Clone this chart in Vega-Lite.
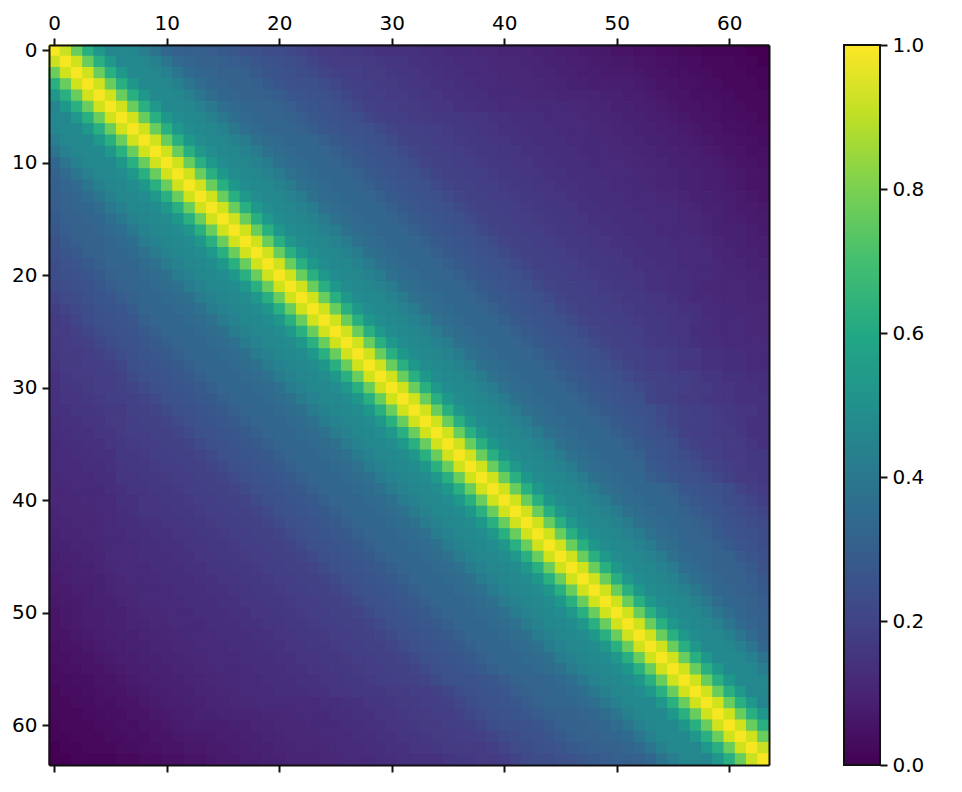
{"$schema":"https://vega.github.io/schema/vega-lite/v6.json","padding":{"left":11,"top":13,"right":10,"bottom":5},"background":"white","spacing":73,"config":{"view":{"stroke":null},"axis":{"grid":false,"title":null,"labelFont":"DejaVu Sans","labelFontSize":20,"labelColor":"#000","labelAngle":0,"tickColor":"#111","tickWidth":2,"tickSize":7,"labelPadding":5,"domainColor":"#111","domainWidth":2}},"hconcat":[{"width":720,"height":720,"data":{"values":[
{"y":0,"v":[99,92,77,63,53,45,46,46,42,38,33,31,30,30,29,28,27,25,24,23,23,22,20,18,17,17,16,16,15,14,14,14,14,13,13,12,12,12,11,11,10,10,10,9,9,8,8,7,7,6,5,5,4,4,3,3,2,2,1,1,1,1,0,0]},
{"y":1,"v":[92,99,93,77,63,53,46,47,46,43,39,34,32,31,31,30,29,28,26,25,24,23,22,20,18,17,17,17,17,16,15,15,14,14,13,13,12,12,12,11,11,11,10,10,9,9,8,8,7,7,6,6,5,5,4,4,3,3,2,2,2,1,1,0]},
{"y":2,"v":[77,93,99,93,77,63,53,47,47,46,43,39,34,33,32,31,31,30,28,26,25,24,23,22,20,19,18,18,17,17,16,15,15,14,14,13,13,12,12,12,11,11,11,10,10,9,9,8,8,7,7,7,6,5,5,4,4,3,3,2,2,2,1,1]},
{"y":3,"v":[63,77,93,99,93,77,63,53,47,47,46,43,39,35,33,32,31,31,30,28,26,25,24,24,23,21,19,18,18,17,17,16,15,15,14,14,13,13,12,12,12,11,11,11,10,10,9,9,8,8,8,8,7,6,5,5,4,4,3,3,2,2,2,1]},
{"y":4,"v":[53,63,77,93,99,93,77,63,53,47,47,46,43,39,35,33,32,31,31,30,29,27,26,25,24,23,21,19,18,18,17,17,16,15,15,14,14,13,13,12,12,12,11,11,11,10,10,10,10,9,9,8,8,7,6,5,5,4,4,3,3,2,2,2]},
{"y":5,"v":[45,53,63,77,93,99,93,77,63,53,47,47,46,43,40,36,34,33,32,32,31,29,27,26,25,24,23,21,19,18,18,17,17,16,15,15,14,14,13,13,12,12,12,12,12,12,11,11,10,10,9,9,8,8,7,6,5,5,4,4,3,3,2,2]},
{"y":6,"v":[46,46,53,63,77,93,99,93,77,63,53,48,47,46,43,40,36,34,33,32,32,31,29,27,26,25,24,23,21,19,18,18,17,17,16,16,16,15,15,14,14,13,13,13,12,12,12,11,11,10,10,9,9,8,8,7,6,5,5,4,4,3,3,2]},
{"y":7,"v":[46,47,47,53,63,77,93,99,93,77,63,53,48,47,46,44,40,36,34,33,32,32,31,29,27,26,25,25,24,22,20,19,19,18,18,17,16,16,15,15,14,14,13,13,13,12,12,12,11,11,10,10,9,9,8,8,7,6,5,5,4,4,3,3]},
{"y":8,"v":[42,46,47,47,53,63,77,93,99,93,77,63,53,48,47,46,44,41,37,35,34,33,33,32,30,28,27,26,25,24,22,20,19,19,18,18,17,16,16,15,15,14,14,13,13,13,12,12,12,11,11,10,10,9,9,8,8,7,6,5,5,4,4,3]},
{"y":9,"v":[38,43,46,47,47,53,63,77,93,99,93,77,63,53,48,47,46,44,41,37,35,34,33,33,32,30,28,27,26,25,24,22,20,19,19,18,18,17,16,16,15,15,14,14,13,13,13,12,12,12,11,11,10,10,9,9,8,8,7,6,5,5,4,4]},
{"y":10,"v":[33,39,43,46,47,47,53,63,77,93,99,93,77,63,53,48,47,46,44,41,37,35,34,33,33,32,30,28,27,26,25,24,22,20,19,19,18,18,17,16,16,15,15,14,14,13,13,13,12,12,12,11,11,10,10,9,9,8,8,7,6,5,5,4]},
{"y":11,"v":[31,34,39,43,46,47,48,53,63,77,93,99,93,77,63,53,48,47,46,44,41,37,35,34,33,33,32,30,28,27,26,25,24,22,20,19,19,18,18,17,16,16,15,15,14,14,13,13,13,12,12,12,11,11,10,10,9,9,8,8,7,6,5,5]},
{"y":12,"v":[30,32,34,39,43,46,47,48,53,63,77,93,99,93,77,63,53,48,47,46,44,41,37,35,34,33,33,32,30,28,27,26,25,24,22,20,19,19,18,18,17,16,16,15,15,14,14,13,13,13,12,12,12,11,10,10,9,9,8,8,7,6,5,5]},
{"y":13,"v":[30,31,33,35,39,43,46,47,48,53,63,77,93,99,93,77,63,53,48,47,46,44,41,37,35,34,33,33,32,30,28,27,26,25,24,22,20,19,19,18,18,17,16,16,15,15,14,14,13,13,13,12,12,12,11,11,10,9,9,8,8,7,6,5]},
{"y":14,"v":[29,31,32,33,35,40,43,46,47,48,53,63,77,93,99,93,77,63,53,48,47,46,44,41,37,35,34,33,33,32,30,28,27,26,25,24,22,20,19,19,18,18,17,16,16,15,15,14,14,13,13,13,12,12,12,12,11,10,9,9,8,7,7,6]},
{"y":15,"v":[28,30,31,32,33,36,40,44,46,47,48,53,63,77,93,99,93,77,63,53,48,47,46,44,41,37,35,34,33,33,32,30,28,27,26,25,24,22,20,19,19,18,18,17,16,16,15,15,14,14,13,13,13,12,12,12,11,11,10,9,8,8,7,7]},
{"y":16,"v":[27,29,31,31,32,34,36,40,44,46,47,48,53,63,77,93,99,93,77,63,53,48,47,46,44,41,37,35,34,33,33,32,30,28,27,26,25,24,22,20,19,19,18,18,17,16,16,15,15,14,14,13,13,13,12,12,12,11,10,9,9,9,8,7]},
{"y":17,"v":[25,28,30,31,31,33,34,36,41,44,46,47,48,53,63,77,93,99,93,77,63,53,48,47,46,44,41,37,35,34,33,33,32,30,28,27,26,25,24,22,20,19,19,18,18,17,16,16,15,15,14,14,13,13,13,12,12,12,11,10,9,9,8,8]},
{"y":18,"v":[24,26,28,31,31,32,33,34,37,41,44,46,47,48,53,63,77,93,99,93,77,63,53,48,47,46,44,41,37,35,34,33,33,32,30,28,27,26,25,24,22,20,19,19,18,18,17,16,16,15,15,14,14,13,13,13,12,12,12,10,10,9,9,8]},
{"y":19,"v":[23,25,26,28,30,32,32,33,35,37,41,44,46,47,48,53,63,77,93,99,93,77,63,53,48,47,46,44,41,37,35,34,33,33,32,30,28,27,26,25,24,22,20,19,19,18,18,17,16,16,15,15,14,14,13,13,12,12,12,11,10,10,9,9]},
{"y":20,"v":[23,24,25,26,28,31,32,32,34,35,37,41,44,46,47,48,53,63,77,93,99,93,77,63,53,48,47,46,44,41,37,35,34,33,33,32,30,28,27,26,25,24,22,20,19,19,18,18,17,16,16,15,15,14,14,13,13,12,12,11,11,10,10,9]},
{"y":21,"v":[22,23,24,25,27,29,31,32,33,34,35,37,41,44,46,47,48,53,63,77,93,99,93,77,63,53,48,47,46,44,41,37,35,34,33,33,32,30,28,27,26,25,24,22,20,19,19,18,18,17,16,16,15,14,14,13,13,12,11,11,11,11,10,10]},
{"y":22,"v":[20,22,23,24,26,27,29,31,33,33,34,35,37,41,44,46,47,48,53,63,77,93,99,93,77,63,53,48,47,46,44,41,37,35,34,33,33,32,30,28,27,26,25,24,22,20,19,19,18,18,17,16,16,15,15,14,13,12,12,11,11,11,10,10]},
{"y":23,"v":[18,20,22,23,25,26,27,29,32,33,33,34,35,37,41,44,46,47,48,53,63,77,93,99,93,77,63,53,48,47,46,44,41,37,35,34,33,33,32,30,28,27,26,25,24,22,20,19,19,18,18,17,16,16,15,15,14,14,12,12,12,11,11,11]},
{"y":24,"v":[17,18,20,23,24,25,26,27,30,32,33,33,34,35,37,41,44,46,47,48,53,63,77,93,99,93,77,63,53,48,47,46,44,41,37,35,34,33,33,32,30,28,27,26,25,24,22,20,19,19,18,18,17,16,16,15,15,14,13,12,12,12,11,11]},
{"y":25,"v":[17,17,19,21,23,24,25,26,28,30,32,33,33,34,35,37,41,44,46,47,48,53,63,77,93,99,93,77,63,53,48,47,46,44,41,37,35,34,33,33,32,30,28,27,26,25,24,22,20,19,19,18,18,16,16,15,15,13,13,12,12,12,11,11]},
{"y":26,"v":[16,17,18,19,21,23,24,25,27,28,30,32,33,33,34,35,37,41,44,46,47,48,53,63,77,93,99,93,77,63,53,48,47,46,44,41,37,35,34,33,33,32,30,28,27,26,25,24,22,20,19,19,18,17,16,16,15,14,13,13,12,12,12,12]},
{"y":27,"v":[16,17,17,18,19,21,23,24,26,27,28,30,32,33,33,34,35,37,41,44,46,47,48,53,63,77,93,99,93,77,63,53,48,47,46,44,41,37,35,34,33,33,32,30,28,27,26,25,24,22,20,19,19,18,18,17,16,16,14,14,13,13,12,12]},
{"y":28,"v":[15,17,17,18,18,19,21,24,25,26,27,28,30,32,33,33,34,35,37,41,44,46,47,48,53,63,77,93,99,93,77,63,53,48,47,46,44,41,37,35,34,33,33,32,30,28,27,26,25,24,22,20,19,18,18,17,15,15,14,14,13,13,12,12]},
{"y":29,"v":[14,16,17,17,18,18,19,22,24,25,26,27,28,30,32,33,33,34,35,37,41,44,46,47,48,53,63,77,93,99,93,77,63,53,48,47,46,44,41,37,35,34,33,33,32,30,28,27,26,25,24,22,20,19,19,18,18,17,15,15,14,14,13,13]},
{"y":30,"v":[14,15,16,17,18,18,19,20,22,24,25,26,27,28,30,32,33,33,34,35,37,41,44,46,47,48,53,63,77,93,99,93,77,63,53,48,47,46,44,41,37,35,34,33,33,32,30,28,27,26,25,24,22,20,19,19,18,17,17,15,15,14,14,13]},
{"y":31,"v":[14,15,15,16,17,18,18,19,20,22,24,25,26,27,28,30,32,33,33,34,35,37,41,44,46,47,48,53,63,77,93,99,93,77,63,53,48,47,46,44,41,37,35,34,33,33,32,30,28,27,26,25,24,20,19,19,17,17,16,15,15,14,14,14]},
{"y":32,"v":[14,14,15,15,16,17,17,19,19,20,22,24,25,26,27,28,30,32,33,33,34,35,37,41,44,46,47,48,53,63,77,93,99,93,77,63,53,48,47,46,44,41,37,35,34,33,33,32,30,28,27,26,25,24,22,20,19,18,18,17,16,15,15,14]},
{"y":33,"v":[13,14,14,15,15,17,17,18,19,19,20,22,24,25,26,27,28,30,32,33,33,34,35,37,41,44,46,47,48,53,63,77,93,99,93,77,63,53,48,47,46,44,41,37,35,34,33,33,32,30,28,27,26,24,22,20,19,18,18,17,16,15,14,14]},
{"y":34,"v":[13,13,14,14,15,15,17,18,18,19,19,20,22,24,25,26,27,28,30,32,33,33,34,35,37,41,44,46,47,48,53,63,77,93,99,93,77,63,53,48,47,46,44,41,37,35,34,33,33,32,30,28,27,25,24,22,19,18,18,17,17,16,14,14]},
{"y":35,"v":[12,13,13,14,14,15,16,17,18,18,19,19,20,22,24,25,26,27,28,30,32,33,33,34,35,37,41,44,46,47,48,53,63,77,93,99,93,77,63,53,48,47,46,44,41,37,35,34,33,33,32,30,28,26,25,24,21,19,18,18,17,17,15,14]},
{"y":36,"v":[12,12,13,13,14,14,16,16,17,18,18,19,19,20,22,24,25,26,27,28,30,32,33,33,34,35,37,41,44,46,47,48,53,63,77,93,99,93,77,63,53,48,47,46,44,41,37,35,34,33,33,32,30,27,26,24,23,21,19,18,17,17,16,16]},
{"y":37,"v":[12,12,12,13,13,14,15,16,16,17,18,18,19,19,20,22,24,25,26,27,28,30,32,33,33,34,35,37,41,44,46,47,48,53,63,77,93,99,93,77,63,53,48,47,46,44,41,37,35,34,33,33,32,28,27,25,24,23,21,19,18,17,16,16]},
{"y":38,"v":[11,12,12,12,13,13,15,15,16,16,17,18,18,19,19,20,22,24,25,26,27,28,30,32,33,33,34,35,37,41,44,46,47,48,53,63,77,93,99,93,77,63,53,48,47,46,44,41,37,35,34,33,33,30,28,26,25,24,23,21,19,17,17,16]},
{"y":39,"v":[11,11,12,12,12,13,14,15,15,16,16,17,18,18,19,19,20,22,24,25,26,27,28,30,32,33,33,34,35,37,41,44,46,47,48,53,63,77,93,99,93,77,63,53,48,47,46,44,41,37,35,34,33,33,32,30,27,26,25,24,23,20,18,17]},
{"y":40,"v":[11,11,11,12,12,12,14,14,15,15,16,16,17,18,18,19,19,20,22,24,25,26,27,28,30,32,33,33,34,35,37,41,44,46,47,48,53,63,77,93,99,93,77,63,53,48,47,46,44,41,37,35,34,33,33,32,29,27,26,25,23,22,20,18]},
{"y":41,"v":[10,11,11,11,12,12,13,14,15,15,15,16,16,17,18,18,19,19,20,22,24,25,26,27,28,30,32,33,33,34,35,37,41,44,46,47,48,53,63,77,93,99,93,77,63,53,48,47,46,44,41,37,35,34,33,33,31,29,27,26,24,23,22,20]},
{"y":42,"v":[10,10,11,11,11,12,13,13,14,14,15,15,16,16,17,18,18,19,19,20,22,24,25,26,27,28,30,32,33,33,34,35,37,41,44,46,47,48,53,63,77,93,99,93,77,63,53,48,47,46,44,41,37,35,34,33,32,31,29,27,25,24,23,22]},
{"y":43,"v":[9,10,10,11,11,12,12,13,13,14,14,15,15,16,16,17,18,18,19,19,20,22,24,25,26,27,28,30,32,33,33,34,35,37,41,44,46,47,48,53,63,77,93,99,93,77,63,53,48,47,46,44,41,37,35,34,32,32,31,28,26,25,24,23]},
{"y":44,"v":[9,9,10,10,11,12,12,12,13,13,14,14,15,15,16,16,17,18,18,19,19,20,22,24,25,26,27,28,30,32,33,33,34,35,37,41,44,46,47,48,53,63,77,93,99,93,77,63,53,48,47,46,44,41,37,35,33,32,32,30,28,26,25,23]},
{"y":45,"v":[8,9,9,10,10,12,12,12,13,13,13,14,14,15,15,16,16,17,18,18,19,19,20,22,24,25,26,27,28,30,32,33,33,34,35,37,41,44,46,47,48,53,63,77,93,99,93,77,63,53,48,47,46,44,41,37,34,33,32,31,31,28,26,24]},
{"y":46,"v":[8,8,9,9,10,11,12,12,12,13,13,13,14,14,15,15,16,16,17,18,18,19,19,20,22,24,25,26,27,28,30,32,33,33,34,35,37,41,44,46,47,48,53,63,77,93,99,93,77,63,53,48,47,46,44,41,36,34,33,31,31,30,28,25]},
{"y":47,"v":[7,8,9,9,9,10,11,12,12,12,13,13,13,14,14,15,15,16,16,17,18,18,19,19,20,22,24,25,26,27,28,30,32,33,33,34,35,37,41,44,46,47,48,53,63,77,93,99,93,77,63,53,48,47,46,44,40,36,34,32,31,31,29,27]},
{"y":48,"v":[7,7,8,8,9,10,11,11,12,12,12,13,13,13,14,14,15,15,16,16,17,18,18,19,19,20,22,24,25,26,27,28,30,32,33,33,34,35,37,41,44,46,47,48,53,63,77,93,99,93,77,63,53,48,47,46,44,40,36,33,32,31,30,28]},
{"y":49,"v":[6,7,7,8,9,9,10,11,12,12,12,12,13,13,13,14,14,15,15,16,16,17,18,18,19,19,20,22,24,25,26,27,28,30,32,33,33,34,35,37,41,44,46,47,48,53,63,77,93,99,93,77,63,53,48,47,46,43,40,35,33,32,31,29]},
{"y":50,"v":[5,6,7,8,8,9,9,10,11,11,12,12,12,13,13,13,14,14,15,15,16,16,17,18,18,19,19,20,22,24,25,26,27,28,30,32,33,33,34,35,37,41,44,46,47,48,53,63,77,93,99,93,77,63,53,48,47,46,43,39,35,33,31,30]},
{"y":51,"v":[5,6,7,8,8,9,9,10,10,11,11,12,12,12,13,13,13,14,14,15,15,16,16,17,18,18,19,19,20,22,24,25,26,27,28,30,32,33,33,34,35,37,41,44,46,47,48,53,63,77,93,99,93,77,63,53,48,47,46,43,39,34,32,30]},
{"y":52,"v":[5,5,6,7,8,8,9,9,10,10,11,11,12,12,12,13,13,13,14,14,15,15,16,16,17,18,18,19,19,20,22,24,25,26,27,28,30,32,33,33,34,35,37,41,44,46,47,48,53,63,77,93,99,93,77,63,53,48,47,46,43,39,34,31]},
{"y":53,"v":[4,5,5,6,7,8,8,9,9,10,10,11,11,12,12,12,13,13,13,14,14,15,15,16,16,17,18,18,19,19,20,22,24,25,26,27,28,30,32,33,33,34,35,37,41,44,46,47,48,53,63,77,93,99,93,77,63,53,47,47,46,43,39,33]},
{"y":54,"v":[4,4,5,5,6,7,8,8,9,9,10,10,11,11,12,12,12,13,13,13,14,14,15,15,16,16,17,18,18,19,19,20,22,24,25,26,27,28,30,32,33,33,34,35,37,41,44,46,47,48,53,63,77,93,99,93,77,63,53,47,47,46,43,38]},
{"y":55,"v":[3,4,4,5,5,6,7,8,8,9,9,10,10,11,11,12,12,12,13,13,13,14,14,15,15,16,16,17,18,18,19,19,20,22,24,25,26,27,28,30,32,33,33,34,35,37,41,44,46,47,48,53,63,77,93,99,93,77,63,53,47,47,46,42]},
{"y":56,"v":[3,3,4,4,5,5,6,7,8,8,9,9,10,10,11,11,12,12,12,13,13,13,14,14,15,15,16,16,17,18,18,19,19,20,22,24,25,25,26,27,29,31,32,32,33,34,36,40,44,46,47,48,53,63,77,93,99,93,77,63,53,47,47,46]},
{"y":57,"v":[2,3,3,4,4,5,5,6,7,8,8,9,9,10,10,11,11,12,12,12,13,13,13,14,14,15,15,16,16,16,17,17,18,18,19,21,23,24,25,26,27,29,31,32,32,33,34,36,40,43,46,47,48,53,63,77,93,99,93,77,63,53,46,46]},
{"y":58,"v":[2,2,3,3,4,4,5,5,6,7,8,8,9,9,10,10,11,11,12,12,12,12,12,12,13,13,14,14,15,15,16,17,17,18,18,19,21,23,24,25,26,27,29,31,32,32,33,34,36,40,43,46,47,47,53,63,77,93,99,93,77,63,53,45]},
{"y":59,"v":[2,2,2,3,3,4,4,5,5,6,7,8,8,9,9,10,10,10,10,11,11,11,12,12,12,13,13,14,14,15,15,16,17,17,18,18,19,21,23,24,25,26,27,29,30,31,31,32,33,35,39,43,46,47,47,53,63,77,93,99,93,77,63,53]},
{"y":60,"v":[1,2,2,2,3,3,4,4,5,5,6,7,8,8,8,8,9,9,10,10,11,11,11,12,12,12,13,13,14,14,15,15,16,17,17,18,18,19,21,23,24,24,25,26,28,30,31,31,32,33,35,39,43,46,47,47,53,63,77,93,99,93,77,63]},
{"y":61,"v":[1,1,2,2,2,3,3,4,4,5,5,6,7,7,7,8,8,9,9,10,10,11,11,11,12,12,12,13,13,14,14,15,15,16,17,17,18,18,19,20,22,23,24,25,26,28,30,31,31,32,33,34,39,43,46,47,47,53,63,77,93,99,93,77]},
{"y":62,"v":[0,1,1,2,2,2,3,3,4,4,5,5,6,6,7,7,8,8,9,9,10,10,11,11,11,12,12,12,13,13,14,14,15,15,16,17,17,17,17,18,20,22,23,24,25,26,28,29,30,31,31,32,34,39,43,46,47,46,53,63,77,93,99,92]},
{"y":63,"v":[0,0,1,1,1,1,2,2,3,3,4,4,5,5,6,7,7,8,8,9,9,10,10,10,11,11,12,12,12,13,13,14,14,14,14,15,16,16,17,17,18,20,22,23,23,24,25,27,28,29,30,30,31,33,38,42,46,46,45,53,63,77,92,99]}
]},"transform":[{"flatten":["v"]},{"window":[{"op":"row_number","as":"x"}],"groupby":["y"]}],"layer":[{"mark":{"type":"rect","strokeWidth":1},"encoding":{"x":{"field":"x","type":"ordinal","scale":{"paddingInner":0,"paddingOuter":0},"axis":{"orient":"top","zindex":1,"values":[1,11,21,31,41,51,61],"labelExpr":"datum.value-1"}},"y":{"field":"y","type":"ordinal","scale":{"paddingInner":0,"paddingOuter":0},"axis":{"orient":"left","zindex":1,"values":[0,10,20,30,40,50,60]}},"color":{"field":"v","type":"quantitative","scale":{"scheme":"viridis","domain":[0,100]},"legend":null},"stroke":{"field":"v","type":"quantitative","scale":{"scheme":"viridis","domain":[0,100]},"legend":null}}},{"transform":[{"filter":"datum.y==0"}],"mark":{"type":"rect","opacity":0},"encoding":{"x":{"field":"x","type":"ordinal","scale":{"paddingInner":0,"paddingOuter":0},"axis":{"orient":"bottom","zindex":1,"values":[1,11,21,31,41,51,61],"labels":false}},"y":{"field":"y","type":"ordinal","scale":{"paddingInner":0,"paddingOuter":0},"axis":{"orient":"right","zindex":1,"values":[],"labels":false,"ticks":false}}}}],"resolve":{"axis":{"x":"independent","y":"independent"}}},{"width":36,"height":720,"data":{"values":[{"lo":0,"hi":100}]},"layer":[{"mark":{"type":"rect","color":{"gradient":"linear","x1":0,"y1":1,"x2":0,"y2":0,"stops":[{"offset":0,"color":"#440154"},{"offset":0.1,"color":"#482475"},{"offset":0.2,"color":"#414487"},{"offset":0.3,"color":"#355f8d"},{"offset":0.4,"color":"#2a788e"},{"offset":0.5,"color":"#21918c"},{"offset":0.6,"color":"#22a884"},{"offset":0.7,"color":"#44bf70"},{"offset":0.8,"color":"#7ad151"},{"offset":0.9,"color":"#bddf26"},{"offset":1,"color":"#fde725"}]}},"encoding":{"y":{"field":"lo","type":"quantitative","scale":{"domain":[0,100],"nice":false},"axis":{"orient":"right","values":[0,20,40,60,80,100],"labelExpr":"format(datum.value/100,'.1f')","domain":false}},"y2":{"field":"hi"}}},{"mark":{"type":"rect","filled":false,"stroke":"#111","strokeWidth":2},"encoding":{"y":{"field":"lo","type":"quantitative"},"y2":{"field":"hi"}}}]}]}
